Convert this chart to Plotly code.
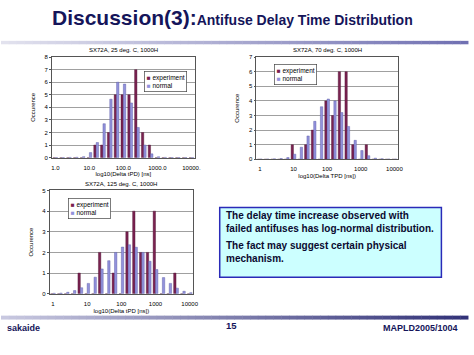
import plotly.graph_objects as go

W, H = 474, 355

# ---------------- data ----------------
bins = ["1.0", "1.6", "2.5", "4.0", "6.3", "10.0", "15.8", "25.1", "39.8", "63.1",
        "100.0", "158.5", "251.2", "398.1", "631.0", "1000.0", "1584.9", "2511.9",
        "3981.1", "6309.6", "10000"]
decade_bins = ["1.0", "10.0", "100.0", "1000.0", "10000"]
ticks_a = ["1.0", "10.0", "100.0", "1000.0", "10000."]
ticks_b = ["1", "10", "100", "1000", "10000"]

exp_25 = [0, 0, 0, 0, 0, 0, 1, 1, 2, 5, 5, 5, 7, 2, 1, 0, 0, 0, 0, 0, 0]
norm_25 = [0.01, 0.01, 0.02, 0.03, 0.08, 0.4, 1.2, 2.7, 4.65, 6.0, 5.85, 4.35, 2.4,
           1.0, 0.3, 0.07, 0.02, 0.01, 0.01, 0.01, 0.01]

exp_70 = [0, 0, 0, 0, 0, 1, 0, 1, 2, 0, 4, 3, 6, 6, 1, 0, 1, 0, 0, 0, 0]
norm_70 = [0.02, 0.02, 0.03, 0.05, 0.12, 0.35, 0.83, 1.6, 2.6, 3.6, 4.13, 4.0, 3.2,
           2.25, 1.3, 0.6, 0.25, 0.08, 0.04, 0.02, 0.02]

exp_125 = [0, 0, 0, 0, 1, 0, 0, 2, 0, 1, 0, 3, 4, 2, 2, 4, 0, 0, 1, 0, 0]
norm_125 = [0.02, 0.03, 0.07, 0.15, 0.29, 0.5, 0.8, 1.2, 1.6, 2.0, 2.26, 2.37, 2.25,
            2.0, 1.57, 1.17, 0.78, 0.5, 0.27, 0.12, 0.05]

series_names = ["experiment", "normal"]
chart_titles = ["SX72A, 25 deg. C, 1000H", "SX72A, 70 deg. C, 1000H", "SX72A, 125 deg. C, 1000H"]
x_titles = ["log10(Delta tPD) [ns]", "log10(Delta TPD [ns])", "log10(Delta tPD [ns])"]
y_title = "Occurence"
y_max = [8, 7, 5]

EXP_COLOR = "#7a2250"
NORM_COLOR = "#9292dc"
NAVY = "#15155a"
FONT = "Liberation Sans, Arial, sans-serif"


def fx(p):
    return p / W


def fy(p):
    return 1 - p / H


# plot boxes in pixels: (x0, x1, y_top, y_bottom)
boxes = [(51.7, 196.7, 55, 157.3), (259.3, 402.7, 55, 159), (49.3, 195, 190.7, 295.7)]
legend_pos = [(145, 69), (277, 62), (68, 198)]
tick_texts = [ticks_a, ticks_b, ticks_b]
data = [(exp_25, norm_25), (exp_70, norm_70), (exp_125, norm_125)]

fig = go.Figure()
layout = dict(
    width=W, height=H, margin=dict(l=0, r=0, t=0, b=0),
    paper_bgcolor="white", plot_bgcolor="white",
    barmode="group", bargap=0.3, bargroupgap=0.0,
    showlegend=False, font=dict(family=FONT, size=6, color="#000"),
)
annotations = []
shapes = []

for i, ((ex, nm), (x0, x1, yt, yb)) in enumerate(zip(data, boxes)):
    sfx = "" if i == 0 else str(i + 1)
    xa, ya = "x" + sfx, "y" + sfx
    fig.add_trace(go.Bar(x=bins, y=ex, name=series_names[0], xaxis=xa, yaxis=ya,
                         marker=dict(color=EXP_COLOR, line=dict(color="#4a1030", width=0.4))))
    fig.add_trace(go.Bar(x=bins, y=nm, name=series_names[1], xaxis=xa, yaxis=ya,
                         marker=dict(color=NORM_COLOR, line=dict(color="#5050a0", width=0.4))))
    layout["xaxis" + sfx] = dict(
        domain=[fx(x0), fx(x1)], anchor=ya, type="category",
        categoryorder="array", categoryarray=bins,
        tickmode="array", tickvals=decade_bins, ticktext=tick_texts[i],
        tickfont=dict(size=6), ticks="outside", ticklen=4, tickcolor="rgba(0,0,0,0)",
        showgrid=False, zeroline=False,
        showline=True, mirror=True, linecolor="#555", linewidth=0.8,
        title=dict(text=x_titles[i], font=dict(size=6), standoff=2),
        fixedrange=True,
    )
    layout["yaxis" + sfx] = dict(
        domain=[fy(yb), fy(yt)], anchor=xa, range=[0, y_max[i]], dtick=1,
        tickfont=dict(size=6), ticks="outside", ticklen=2, tickcolor="#555",
        showgrid=True, gridcolor="#a0a0a0", gridwidth=0.6, zeroline=False,
        showline=True, mirror=True, linecolor="#555", linewidth=0.8,
        title=dict(text=y_title, font=dict(size=6), standoff=8),
        fixedrange=True,
    )
    # chart title
    annotations.append(dict(
        xref="paper", yref="paper", x=fx((x0 + x1) / 2), y=fy(yt - 7),
        text=chart_titles[i], showarrow=False, font=dict(size=6, color="#000"),
        xanchor="center", yanchor="middle"))
    # legend box
    lx, ly = legend_pos[i]
    annotations.append(dict(
        xref="paper", yref="paper", x=fx(lx), y=fy(ly), xanchor="left", yanchor="top",
        showarrow=False, align="left", bgcolor="white", bordercolor="#444",
        borderwidth=0.7, borderpad=2,
        font=dict(size=6.5, color="#000"),
        text=(f"<span style='color:{EXP_COLOR}'>■</span> {series_names[0]}"
              f"<br><span style='color:{NORM_COLOR}'>■</span> {series_names[1]}")))

# gradient bars (header & footer)


def lerp(c0, c1, t):
    return "#%02x%02x%02x" % tuple(int(round(a + (b - a) * t)) for a, b in zip(c0, c1))


N = 60
for k in range(N):
    t = k / (N - 1)
    shapes.append(dict(type="rect", xref="paper", yref="paper",
                       x0=k / N, x1=(k + 1) / N + 0.001, y0=fy(42), y1=fy(38.5),
                       fillcolor=lerp((226, 226, 238), (112, 112, 178), t), line=dict(width=0)))
    shapes.append(dict(type="rect", xref="paper", yref="paper",
                       x0=k / N, x1=(k + 1) / N + 0.001, y0=fy(322), y1=fy(318),
                       fillcolor=lerp((200, 200, 224), (50, 50, 120), t), line=dict(width=0)))

# text box
shapes.append(dict(type="rect", xref="paper", yref="paper",
                   x0=fx(222), x1=fx(447), y0=fy(279), y1=fy(208),
                   fillcolor="#ccffff", line=dict(color="#2a2ab8", width=1.5)))
box_paras = ["The delay time increase observed with<br>failed antifuses has log-normal distribution.",
             "The fact may suggest certain physical<br>mechanism."]
para_top = [209, 239]
for txt, yy in zip(box_paras, para_top):
    annotations.append(dict(xref="paper", yref="paper", x=fx(226), y=fy(yy),
                            xanchor="left", yanchor="top", showarrow=False, align="left",
                            text=f"<b>{txt}</b>", font=dict(size=10, color="#0a0a30")))

# slide title
annotations.append(dict(
    xref="paper", yref="paper", x=fx(235), y=fy(15), xanchor="center", yanchor="middle",
    showarrow=False,
    text=("<b><span style='font-size:21px'>Discussion(3):</span>"
          "<span style='font-size:14px'>Antifuse Delay Time Distribution</span></b>"),
    font=dict(size=21, color=NAVY)))

# footer
annotations.append(dict(xref="paper", yref="paper", x=fx(4), y=fy(331), xanchor="left",
                        yanchor="middle", showarrow=False, text="<b>sakaide</b>",
                        font=dict(size=9, color=NAVY)))
annotations.append(dict(xref="paper", yref="paper", x=fx(234), y=fy(328), xanchor="center",
                        yanchor="middle", showarrow=False, text="<b>15</b>",
                        font=dict(size=9.5, color=NAVY)))
annotations.append(dict(xref="paper", yref="paper", x=fx(466), y=fy(331), xanchor="right",
                        yanchor="middle", showarrow=False, text="<b>MAPLD2005/1004</b>",
                        font=dict(size=9, color=NAVY)))

layout["annotations"] = annotations
layout["shapes"] = shapes
fig.update_layout(**layout)
fig.write_html("out.html", config={"displayModeBar": False},
               post_script="document.body.style.margin='0px';document.body.style.overflow='hidden';")
